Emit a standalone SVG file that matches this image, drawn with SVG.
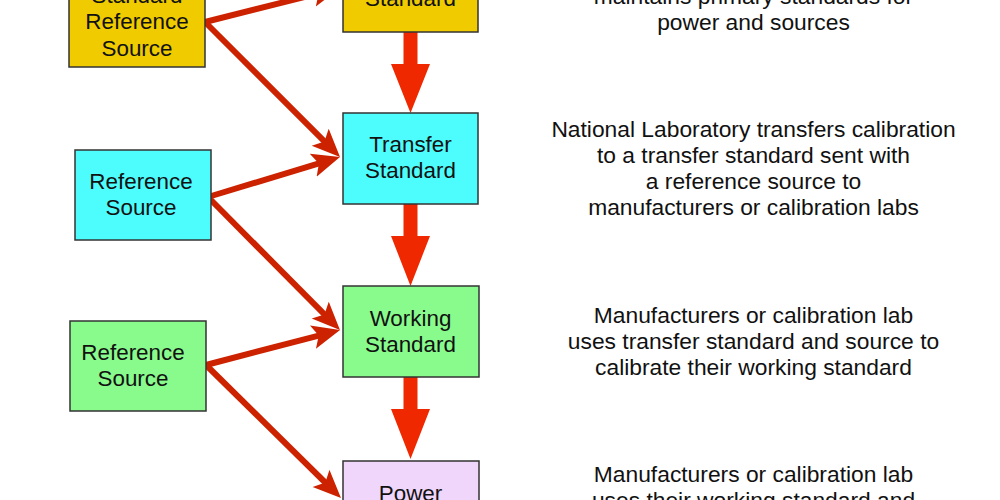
<svg xmlns="http://www.w3.org/2000/svg" width="1000" height="500" viewBox="0 0 1000 500">
<style>
.box{stroke:#333;stroke-width:1.5}
.yel{fill:#efcb00}
.cyn{fill:#4dfdfd}
.grn{fill:#88fb8c}
.pur{fill:#f1d6fb}
text{font-family:"Liberation Sans",Arial,sans-serif;font-size:22.4px;fill:#111;text-anchor:middle}
.desc text{font-size:22.8px}
.diag{fill:none;stroke:#cc2200;stroke-width:6}
.vert{fill:#f02800}
</style>
<defs>
<marker id="ah" markerUnits="userSpaceOnUse" markerWidth="30" markerHeight="26" refX="13" refY="12" orient="auto">
<path d="M0,0 L28,12 L0,24 L6,12 Z" fill="#cc2200"/>
</marker>
</defs>
<rect width="1000" height="500" fill="#fff"/>
<g id="connectors">
<path class="diag" d="M205,22 L325.5,-8.3" marker-end="url(#ah)"/>
<path class="diag" d="M205,22 L329.4,146.4" marker-end="url(#ah)"/>
<path class="diag" d="M208,197 L325.6,161.4" marker-end="url(#ah)"/>
<path class="diag" d="M208,197 L329.4,319.4" marker-end="url(#ah)"/>
<path class="diag" d="M206,365 L325.5,333.8" marker-end="url(#ah)"/>
<path class="diag" d="M206,365 L330.3,487.5" marker-end="url(#ah)"/>
<path class="vert" d="M403.5,32 H417.5 V64 H430 L410.5,113 L391,64 H403.5 Z"/>
<path class="vert" d="M403.5,204 H417.5 V236 H430 L410.5,286 L391,236 H403.5 Z"/>
<path class="vert" d="M403.5,377 H417.5 V409 H430 L410.5,459 L391,409 H403.5 Z"/>
</g>
<g id="std-ref-source">
<rect class="box yel" x="69" y="-24" width="136" height="91"/>
<text x="137" y="3">Standard</text>
<text x="137" y="29">Reference</text>
<text x="137" y="56">Source</text>
</g>
<g id="primary-standard">
<rect class="box yel" x="343" y="-59" width="135" height="91"/>
<text x="410.5" y="6">Standard</text>
</g>
<g id="transfer-standard">
<rect class="box cyn" x="343" y="113" width="135" height="91"/>
<text x="410.5" y="152">Transfer</text>
<text x="410.5" y="178">Standard</text>
</g>
<g id="ref-source-1">
<rect class="box cyn" x="75" y="150" width="136" height="90"/>
<text x="141" y="189">Reference</text>
<text x="141" y="215">Source</text>
</g>
<g id="working-standard">
<rect class="box grn" x="343" y="286" width="136" height="91"/>
<text x="410.5" y="326">Working</text>
<text x="410.5" y="352">Standard</text>
</g>
<g id="ref-source-2">
<rect class="box grn" x="70" y="321" width="136" height="90"/>
<text x="133" y="360">Reference</text>
<text x="133" y="386">Source</text>
</g>
<g id="power">
<rect class="box pur" x="343" y="461" width="136" height="91"/>
<text x="410.5" y="501">Power</text>
</g>
<g id="desc-1" class="desc">
<text x="753.5" y="4">maintains primary standards for</text>
<text x="753.5" y="30">power and sources</text>
</g>
<g id="desc-2" class="desc">
<text x="753.5" y="137">National Laboratory transfers calibration</text>
<text x="753.5" y="163">to a transfer standard sent with</text>
<text x="753.5" y="189">a reference source to</text>
<text x="753.5" y="215">manufacturers or calibration labs</text>
</g>
<g id="desc-3" class="desc">
<text x="753.5" y="323">Manufacturers or calibration lab</text>
<text x="753.5" y="349">uses transfer standard and source to</text>
<text x="753.5" y="375">calibrate their working standard</text>
</g>
<g id="desc-4" class="desc">
<text x="753.5" y="482">Manufacturers or calibration lab</text>
<text x="753.5" y="508">uses their working standard and</text>
</g>
</svg>
